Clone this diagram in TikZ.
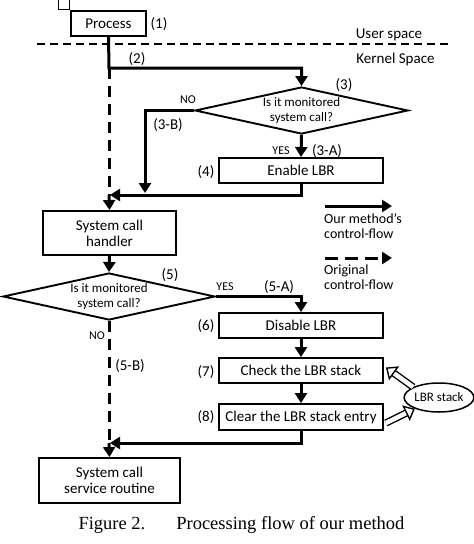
\documentclass[tikz,border=0pt]{standalone}
\usepackage{fontspec}
\setmainfont{Carlito}
\newfontfamily\capfont{Liberation Serif}
\usetikzlibrary{shapes.geometric, arrows.meta, calc}

\tikzset{
  box/.style={draw, line width=1.9pt, minimum width=164pt, minimum height=25pt, inner sep=1pt, font=\fontsize{15}{16}\selectfont},
  decision/.style={draw, diamond, aspect=4.5, line width=1.9pt, minimum width=213pt, minimum height=47pt, inner sep=0pt, align=center, font=\fontsize{13}{15}\selectfont},
  flow/.style={line width=3pt, -{Triangle[length=10pt, width=12pt]}},
  orig/.style={line width=3pt, dash pattern=on 11pt off 7pt},
  lbl/.style={font=\fontsize{15}{16}\selectfont},
  yn/.style={font=\fontsize{12}{13}\selectfont},
  legendtext/.style={anchor=west, align=left, inner sep=0pt, font=\fontsize{14}{15}\selectfont},
  hollow/.style={double, line width=1.4pt, double distance=4.5pt, -{Triangle[open, length=10pt, width=17pt]}},
}

\begin{document}
\begin{tikzpicture}[x=1pt, y=-1pt]
  \useasboundingbox (0,0) rectangle (474,544);

  \node (proc)    at (108.5,23.5) [box, minimum width=75pt] {Process};
  \node (corner)  at (proc.north west) [draw, line width=1.5pt, minimum size=11pt, inner sep=0pt, anchor=south east] {};
  \node (chk1)    at (301.5,110.5) [decision] {Is it monitored\\system call?};
  \node (enable)  at (301,170.5)   [box] {Enable LBR};
  \node (handler) at (109.5,233)   [box, minimum width=133pt, minimum height=44pt, align=center] {System call\\handler};
  \node (chk2)    at (109,296.5)   [decision, minimum width=212pt] {Is it monitored\\system call?};
  \node (disable) at (301,325.5)   [box] {Disable LBR};
  \node (check)   at (301,370.5)   [box] {Check the LBR stack};
  \node (clear)   at (301,417)     [box, minimum height=26pt] {Clear the LBR stack entry};
  \node (service) at (109.5,480.5) [box, minimum width=141pt, minimum height=45pt, align=center] {System call\\service routine};
  \node (stack)   at (439,397.5)   [draw, ellipse, line width=1.5pt, minimum width=66pt, minimum height=29pt, inner sep=0pt, font=\fontsize{13}{14}\selectfont] {LBR stack};

  % user / kernel border
  \coordinate (borderL) at (37,44);
  \coordinate (borderR) at (452,44);
  \draw[line width=2.2pt, dash pattern=on 8pt off 5pt] (borderL) -- (borderR);
  \node (user)   at (389,35)   [lbl] {User space};
  \node (kernel) at (395.5,59) [lbl] {Kernel Space};

  \coordinate (split)  at (109,68);
  \coordinate (noend)  at (145,193);
  \coordinate (merge1) at (109,195);
  \coordinate (merge2) at (109,443);

  \draw[orig] (split) -- (merge1);
  \draw[orig] (chk2.south) -- (merge2);

  \draw[flow] (proc.south) -- (split) -| (chk1.north);
  \draw[flow] (chk1.south) -- (enable.north);
  \draw[flow] (chk1.west) -| (noend);
  \draw[flow, shorten >=1pt] (enable.south) |- (merge1);
  \draw[flow] (merge1) -- (handler.north);
  \draw[flow] (handler.south) -- (chk2.north);
  \draw[flow] (chk2.east) -| (disable.north);
  \draw[flow] (disable.south) -- (check.north);
  \draw[flow] (check.south) -- (clear.north);
  \draw[flow, shorten >=1pt] (clear.south) |- (merge2);
  \draw[flow] (merge2) -- (service.north);

  \draw[hollow] (stack.158) -- ($(check.east)+(2,-3)$);
  \draw[hollow] ($(clear.east)+(2,6)$) -- (stack.205);

  % step labels
  \node (n1)  at (159,24)    [lbl] {(1)};
  \node (n2)  at (137,59)    [lbl] {(2)};
  \node (n3)  at (344,85)    [lbl] {(3)};
  \node (n3b) at (168,125)   [lbl] {(3-B)};
  \node (n3a) at (327,151)   [lbl] {(3-A)};
  \node (n4)  at (206,172)   [lbl] {(4)};
  \node (n5)  at (170,275)   [lbl] {(5)};
  \node (n5a) at (279,287)   [lbl] {(5-A)};
  \node (n6)  at (206,326)   [lbl] {(6)};
  \node (n5b) at (130,366)   [lbl] {(5-B)};
  \node (n7)  at (206,372)   [lbl] {(7)};
  \node (n8)  at (206,417)   [lbl] {(8)};
  \node (no1)  at (188,100)  [yn] {NO};
  \node (yes1) at (281,151)  [yn] {YES};
  \node (yes2) at (225,287)  [yn] {YES};
  \node (no2)  at (97,336)   [yn] {NO};

  % legend
  \coordinate (ourA)  at (325,206);
  \coordinate (ourB)  at (392,206);
  \coordinate (origA) at (325,258);
  \coordinate (origB) at (392,258);
  \draw[flow] (ourA) -- (ourB);
  \draw[line width=3pt, dash pattern=on 13pt off 7pt, -{Triangle[length=10pt, width=12pt]}] (origA) -- (origB);
  \node (ourtxt)  at (324,226.5) [legendtext] {Our method’s\\control-flow};
  \node (origtxt) at (324,277)   [legendtext] {Original\\control-flow};

  \node (caption) at (241.5,525) [font=\capfont\fontsize{18.5}{20}\selectfont] {Figure 2.\hspace{31pt}Processing flow of our method};
\end{tikzpicture}
\end{document}
